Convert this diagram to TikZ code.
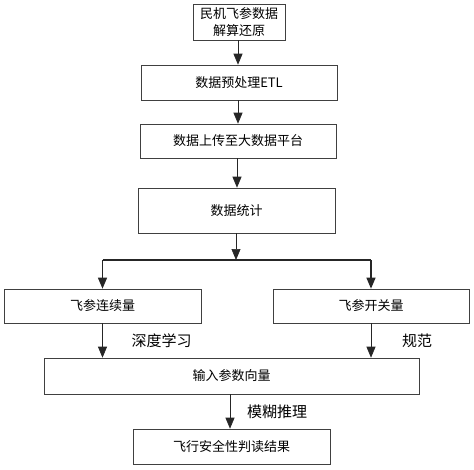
\documentclass[tikz,border=0pt]{standalone}
\usepackage{fontspec}
\newfontfamily\cjk{Noto Sans CJK SC}
\usetikzlibrary{arrows.meta}
\tikzset{
	stepbox/.style={draw=black!75, line width=0.6pt, font=\cjk\fontsize{13}{16.5}\selectfont, align=center, inner sep=0pt},
	arr/.style={draw=black!85, line width=0.7pt, -{Triangle[length=11pt,width=9pt]}},
	thickarr/.style={draw=black!85, line width=1.3pt, -{Triangle[length=11pt,width=9pt]}},
	lbl/.style={font=\cjk\fontsize{15}{18}\selectfont, inner sep=0pt}
}

\begin{document}
\begin{tikzpicture}[x=1pt, y=-1pt]
			%%%%% START %%%%%
			
			\useasboundingbox (0, 0) rectangle (474, 469);
			
			\node[stepbox, minimum width=92pt, minimum height=36pt] (decode) at (239, 22) {民机飞参数据\\解算还原};
			\node[stepbox, minimum width=196pt, minimum height=35pt] (etl) at (239, 82.5) {数据预处理ETL};
			\node[stepbox, minimum width=196pt, minimum height=34pt] (upload) at (238, 141) {数据上传至大数据平台};
			\node[stepbox, minimum width=197pt, minimum height=45pt] (stats) at (236.5, 210.5) {数据统计};
			
			\node[stepbox, minimum width=197pt, minimum height=34pt] (contin) at (102.5, 306) {飞参连续量};
			\node[stepbox, minimum width=196pt, minimum height=34pt] (switch) at (371, 306) {飞参开关量};
			
			\node[stepbox, minimum width=375pt, minimum height=36pt] (vector) at (231.5, 376) {输入参数向量};
			\node[stepbox, minimum width=197pt, minimum height=35pt] (result) at (231.5, 446.5) {飞行安全性判读结果};
			
			\coordinate (fork) at (236, 260);
			\coordinate (forkL) at (102.5, 260);
			\coordinate (forkR) at (371, 260);
			
			\draw[arr] (decode.south -| 238, 0) -- (etl.north -| 238, 0);
			\draw[arr] (etl.south -| 238, 0) -- (upload.north -| 238, 0);
			\draw[arr] (upload.south -| 237, 0) -- (stats.north -| 237, 0);
			\draw[arr] (stats.south -| fork) -- (fork);
			
			\draw[line width=1.3pt, draw=black!85] (forkL) -- (forkR);
			\draw[thickarr] (forkL) -- (contin.north);
			\draw[thickarr] (forkR) -- (switch.north);
			
			\draw[arr] (contin.south) -- (contin.south |- vector.north) node[lbl, pos=0.5, xshift=59pt] {深度学习};
			\draw[arr] (switch.south) -- (switch.south |- vector.north) node[lbl, pos=0.5, xshift=46pt] {规范};
			\draw[arr] (vector.south -| 230, 0) -- (result.north -| 230, 0) node[lbl, pos=0.5, xshift=47pt] {模糊推理};
			
			%%%%% END %%%%%
\end{tikzpicture}
\end{document}
